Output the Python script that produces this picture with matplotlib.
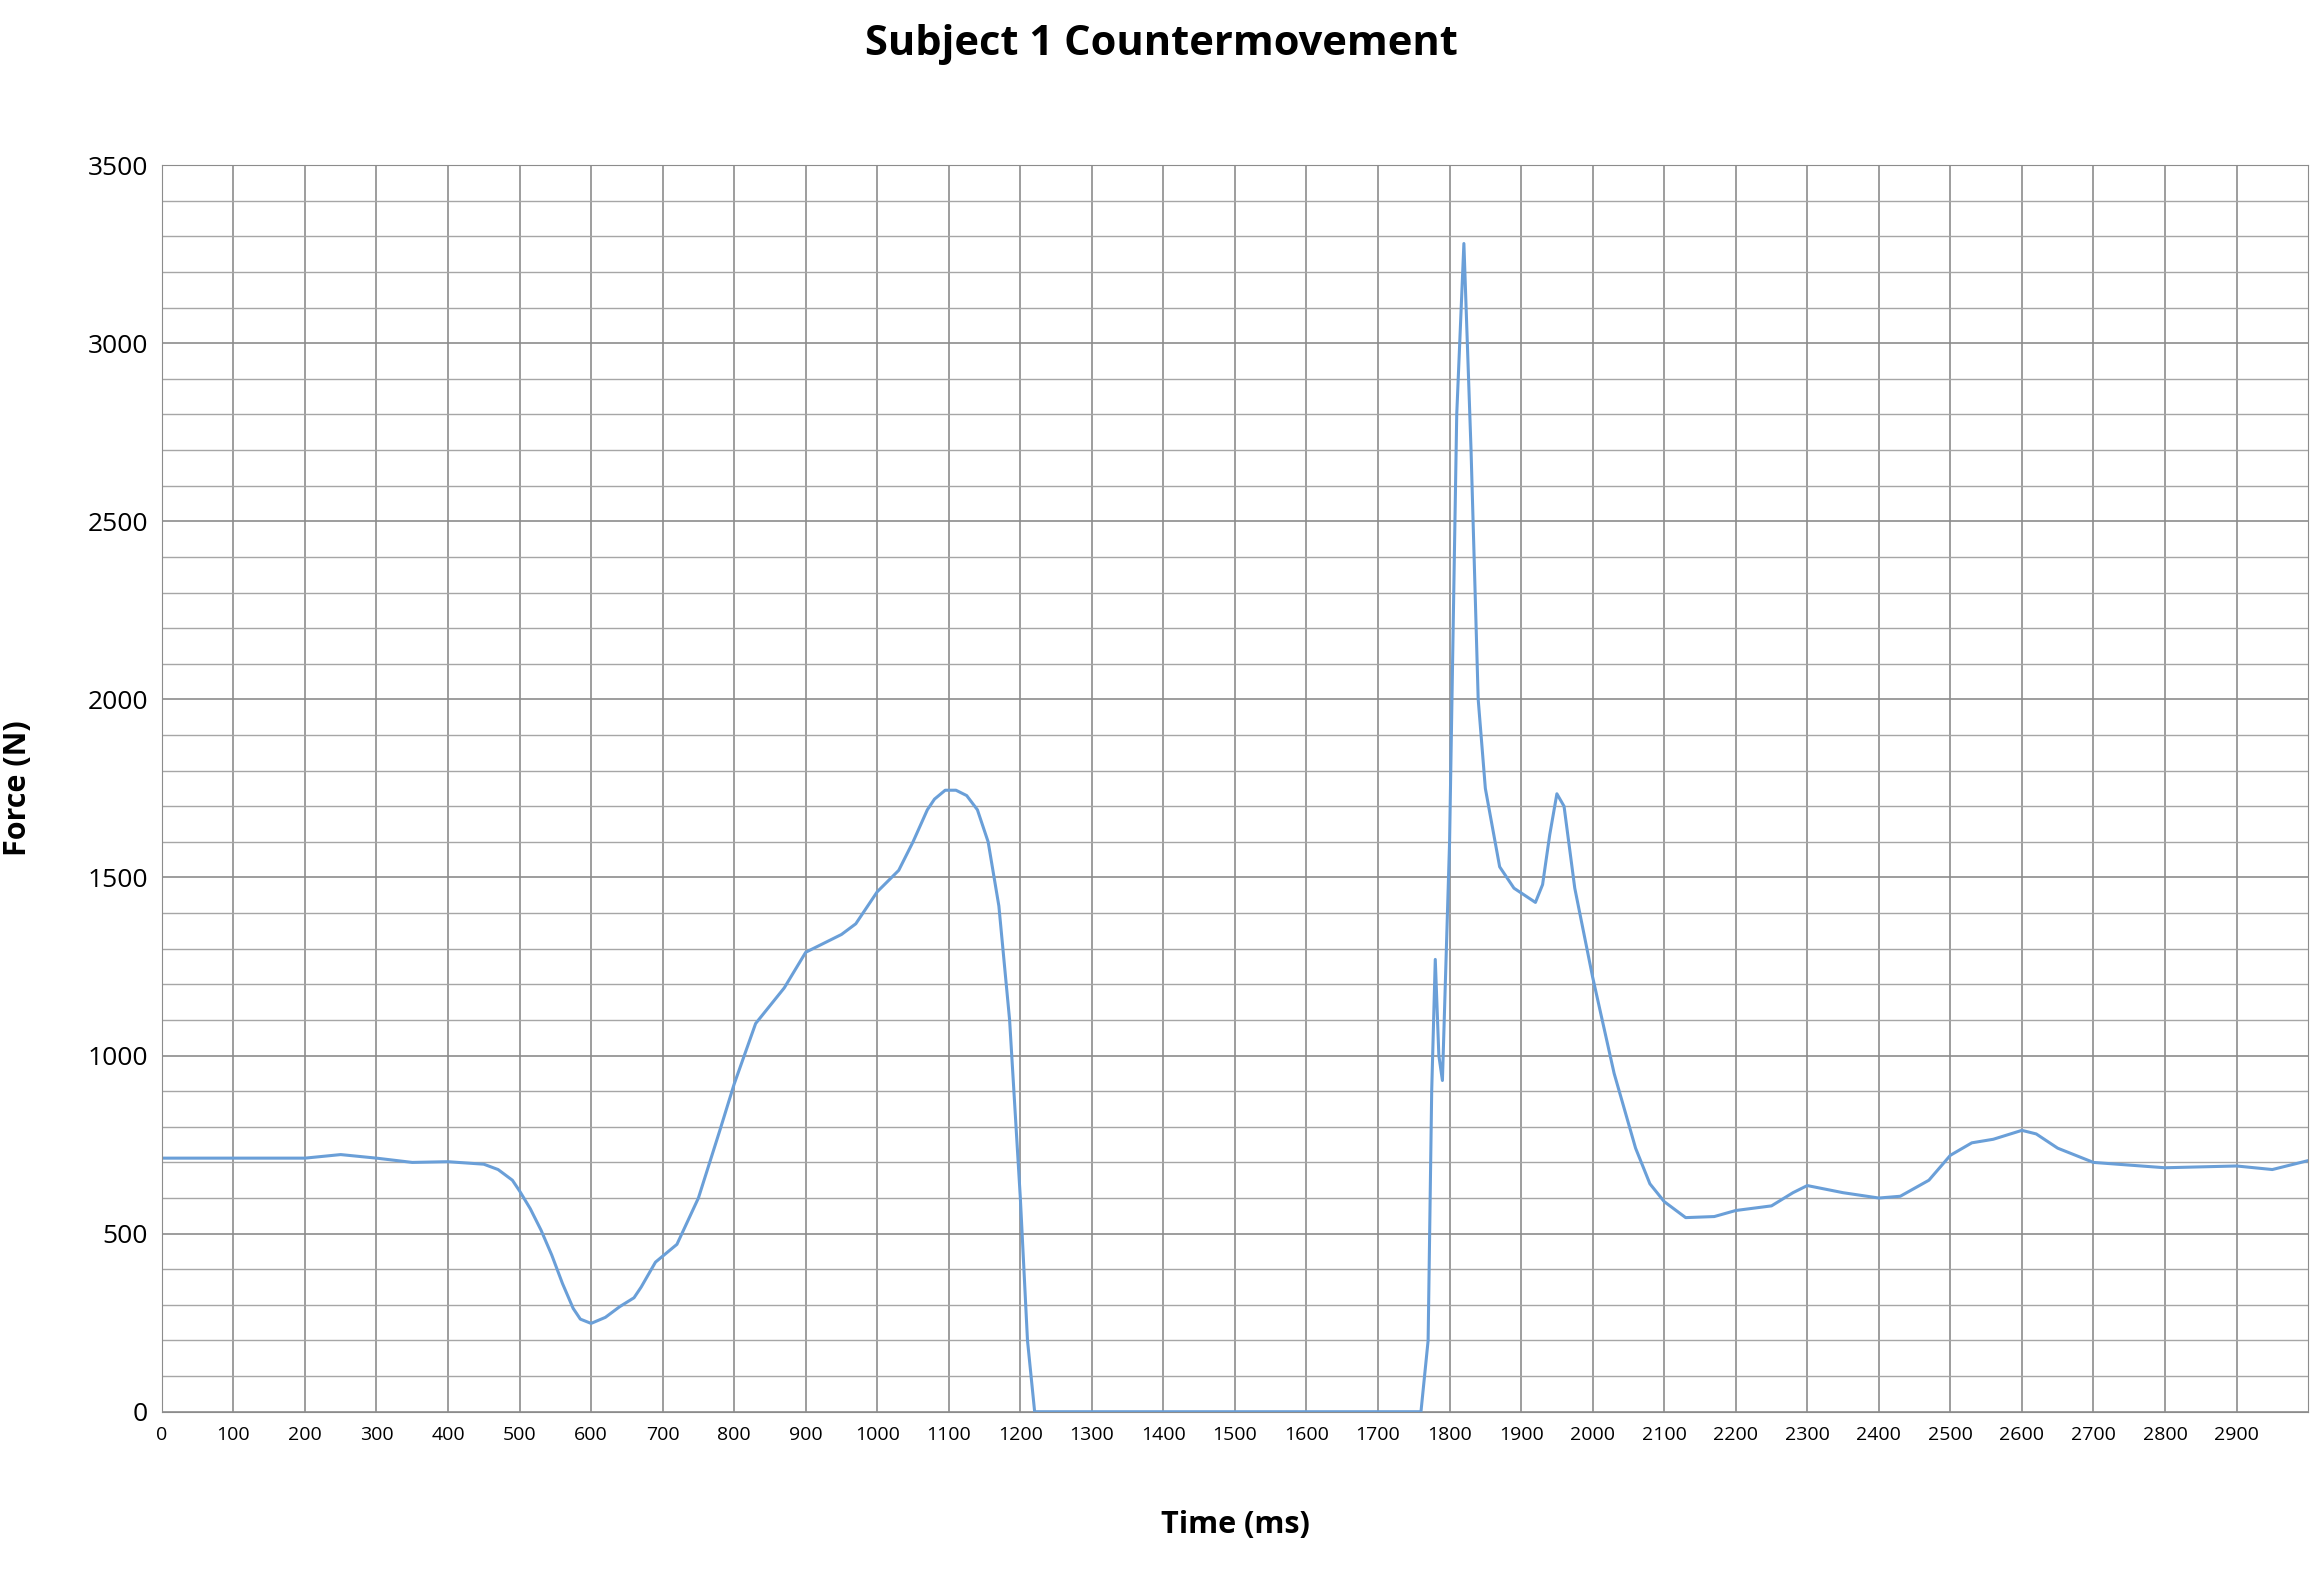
import matplotlib
matplotlib.use("Agg")
import matplotlib.pyplot as plt
import numpy as np

time_ms = [0, 50, 100, 200, 250, 300, 350, 400, 450, 470, 490, 500, 515, 530, 545, 560, 575, 585, 600, 620, 640, 660, 670, 690, 720,
           750, 780, 800, 830, 870, 900, 950, 970, 980, 1000, 1030, 1050, 1070, 1080, 1095, 1110, 1125, 1140, 1155, 1170, 1185, 1200,
           1210, 1220, 1760, 1770, 1775, 1780, 1785, 1790, 1800, 1810, 1820, 1830, 1840, 1850, 1870, 1890,
           1920, 1930, 1940, 1950, 1960, 1975, 2000, 2030, 2060, 2080, 2100, 2130, 2170, 2200, 2250, 2280, 2300, 2350,
           2400, 2430, 2470, 2500, 2530, 2560, 2600, 2620, 2650, 2700, 2800, 2900, 2950, 3000]
force_n = [712, 712, 712, 712, 722, 712, 700, 702, 695, 680, 650, 620, 570, 510, 440, 360, 290, 260, 248, 265, 295, 320, 350, 420, 470,
           600, 790, 920, 1090, 1190, 1290, 1340, 1370, 1400, 1460, 1520, 1600, 1690, 1720, 1745, 1745, 1730, 1690, 1600, 1420, 1100, 600,
           200, 0, 0, 200, 900, 1270, 1000, 930, 1600, 2800, 3280, 2700, 2000, 1750, 1530, 1470,
           1430, 1480, 1620, 1735, 1700, 1470, 1220, 950, 740, 640, 590, 545, 548, 565, 578, 615, 635, 615,
           600, 605, 650, 720, 755, 765, 790, 780, 740, 700, 685, 690, 680, 705]
x_ticks = list(range(0, 3000, 100))
y_ticks = list(range(0, 3501, 500))

plt.rcParams['font.family'] = ['Open Sans', 'DejaVu Sans']
fig = plt.figure(figsize=(23.22, 15.88), dpi=100)
ax = fig.add_axes([0.0697, 0.111, 0.9243, 0.785])
ax.plot(time_ms, force_n, color='#6a9fd8', lw=2.2)
ax.set_xlim(0, 3000)
ax.set_ylim(0, 3500)
ax.set_xticks(x_ticks)
ax.set_xticklabels([str(t) for t in x_ticks], fontsize=14)
ax.set_yticks(y_ticks)
ax.set_yticklabels([str(v) for v in y_ticks], fontsize=19)
ax.set_yticks(range(0, 3501, 100), minor=True)
ax.grid(True, which='major', color='#8c8c8c', lw=1.2)
ax.grid(True, which='minor', axis='y', color='#a6a6a6', lw=1.0)
ax.tick_params(which='both', length=0, pad=10)
for s in ax.spines.values():
    s.set_color('#8c8c8c')
ax.set_xlabel('Time (ms)', fontsize=22, fontweight='bold', labelpad=48)
ax.set_ylabel('Force (N)', fontsize=22, fontweight='bold')
ax.yaxis.set_label_coords(-0.060, 0.5)
fig.suptitle('Subject 1 Countermovement', fontsize=30, fontweight='bold', y=0.985)
fig.savefig('out.png', dpi=100)
